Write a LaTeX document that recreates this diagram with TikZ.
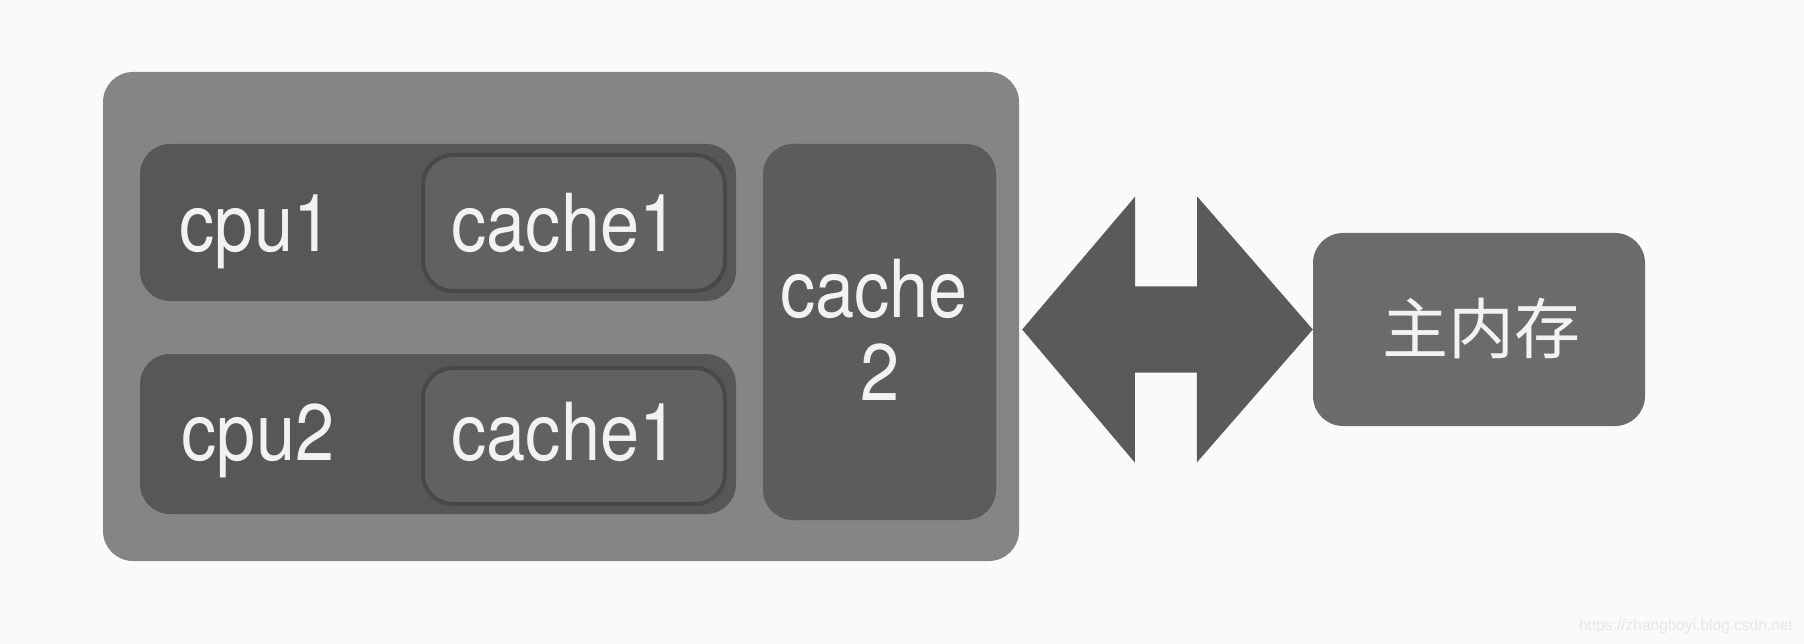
\documentclass[tikz,border=0pt]{standalone}
\usepackage{fontspec}
\setmainfont{TeX Gyre Heros}[FakeStretch=0.88]
\newfontfamily\cjkfont{Noto Sans CJK SC}
\newfontfamily\wmfont{Liberation Sans}
\usetikzlibrary{calc}
\definecolor{bgc}{HTML}{FAFAFA}
\definecolor{outerc}{HTML}{858585}
\definecolor{cpuc}{HTML}{575757}
\definecolor{cachec}{HTML}{616161}
\definecolor{cacheline}{HTML}{484848}
\definecolor{cachetwo}{HTML}{5C5C5C}
\definecolor{arrowc}{HTML}{5A5A5A}
\definecolor{memc}{HTML}{6B6B6B}
\definecolor{txtc}{HTML}{F2F2F2}
\definecolor{wmc}{HTML}{E6E6E6}
\tikzset{
  box/.style={rectangle, rounded corners=30pt, inner sep=0pt, draw=none},
  lbl/.style={text=txtc, font=\fontsize{80}{90}\selectfont, inner sep=0pt, anchor=base},
}
\begin{document}
\begin{tikzpicture}[x=1pt,y=-1pt]
\fill[bgc] (0,0) rectangle (1804,644);
\useasboundingbox (0,0) rectangle (1804,644);
% outer chip
\node[box, fill=outerc, minimum width=916pt, minimum height=489pt] (outer) at (561,316.5) {};
% cpu rows
\node[box, fill=cpuc, minimum width=596pt, minimum height=157pt] (row1) at (438,222.5) {};
\node[box, fill=cachec, draw=cacheline, line width=4pt, minimum width=302pt, minimum height=136pt] (c1a) at (574,223) {};
\node[box, fill=cpuc, minimum width=596pt, minimum height=160pt] (row2) at (438,434) {};
\node[box, fill=cachec, draw=cacheline, line width=4pt, minimum width=302pt, minimum height=136pt] (c1b) at (574,436) {};
% cache2
\node[box, fill=cachetwo, minimum width=233pt, minimum height=376pt] (c2) at (879.5,332) {};
% memory
\node[box, fill=memc, minimum width=332pt, minimum height=193pt] (mem) at (1479,329.5) {};
% labels
\node[lbl] (t1) at (256,252) {cpu1};
\node[lbl] (t2) at (565,252) {cache1};
\node[lbl] (t3) at (258,460) {cpu2};
\node[lbl] (t4) at (565,460) {cache1};
\node[lbl] (t5) at (874,317) {cache};
\node[lbl] (t6) at (880,400) {2};
\node[text=txtc, font=\cjkfont\fontsize{66}{70}\selectfont, inner sep=0pt, anchor=base] (t7) at (1481,353) {主内存};
% double arrow
\coordinate (aL) at ($(outer.east |- mem.west)+(3,0)$);
\coordinate (aR) at (mem.west);
\fill[arrowc] (aL) -- ++(113,-133) -- ++(0,90) -- ++(62,0) -- ++(0,-90) -- (aR)
  -- ++(-116,133) -- ++(0,-90) -- ++(-62,0) -- ++(0,90) -- cycle;
% watermark
\node[text=wmc, font=\wmfont\fontsize{15.5}{18}\selectfont, inner sep=0pt, anchor=base east] (wm) at (1793,630) {https://zhangboyi.blog.csdn.net};
\end{tikzpicture}
\end{document}
